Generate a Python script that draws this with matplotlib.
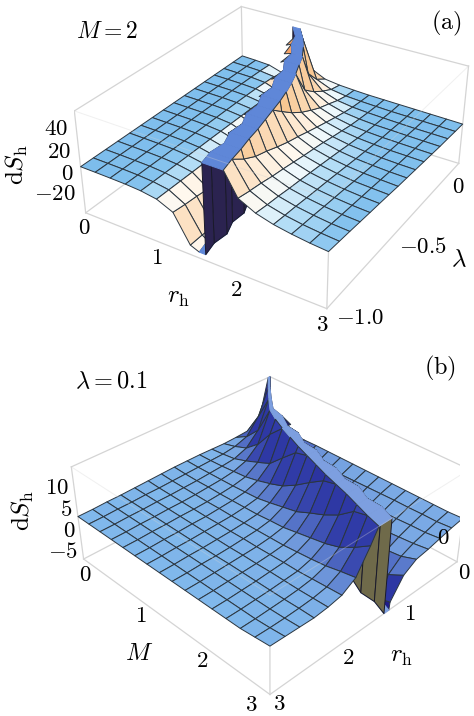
import numpy as np
import matplotlib
matplotlib.use("Agg")
import matplotlib.pyplot as plt
from matplotlib.colors import LinearSegmentedColormap
from mpl_toolkits.mplot3d import proj3d
from mpl_toolkits.mplot3d.art3d import Poly3DCollection

plt.rcParams["mathtext.fontset"] = "cm"
plt.rcParams["font.family"] = "serif"
plt.rcParams["font.serif"] = ["DejaVu Serif"]

# panel (a), M = 2
a_r = [0.0, 0.2, 0.4, 0.6, 0.8, 1.0, 1.2, 1.4, 1.6, 1.8, 2.0, 2.2, 2.4, 2.6, 2.8, 3.0]
a_lam = [-1.0, -0.923, -0.847, -0.77, -0.693, -0.617, -0.54, -0.463,
         -0.387, -0.31, -0.233, -0.157, -0.08, -0.003, 0.073, 0.15]
# dS_h on the mesh, one row per lambda
a_z = [
    [2.2, 2.1, 1.9, 1.6, 0.8, -1.2, -7, -29, 41, 41, 23.5, 16.9, 13.2, 10.9, 9.2, 8],
    [2.2, 2.1, 1.9, 1.5, 0.6, -1.4, -8.5, -29, 41, 41, 21.4, 15.4, 12.1, 9.9, 8.4, 7.3],
    [2.2, 2.1, 1.8, 1.5, 0.5, -1.6, -9.5, -30, 41, 34, 19.8, 14.3, 11.2, 9.1, 7.5, 6.6],
    [2.2, 2, 1.8, 1.4, 0.4, -1.8, -11, -31, 41, 28.8, 17.7, 12.8, 10, 8, 6.6, 5.8],
    [2.2, 2, 1.8, 1.4, 0.3, -2, -12.5, -32, 41, 25.8, 16.1, 11.6, 8.9, 7.1, 5.8, 5],
    [2.2, 2, 1.8, 1.3, 0.2, -2.5, -16, -32, 41, 22.2, 14.3, 10.3, 7.9, 6.2, 5, 4.3],
    [2.2, 2, 1.8, 1.3, 0.2, -3, -20, -32, 41, 19, 12.4, 9, 6.7, 5, 4.2, 3.5],
    [2.2, 2, 1.8, 1.3, 0.1, -3.6, -24, 41, 33, 16.5, 10.8, 7.6, 5.5, 4.1, 3.3, 2.6],
    [2.2, 2, 1.8, 1.3, 0, -4.5, -28, 41, 25.5, 13.6, 9.1, 6.2, 4.3, 3.2, 2.4, 2],
    [2.2, 2, 1.8, 1.3, -0.1, -5.5, -31, 41, 19.3, 10.9, 7, 4.6, 3.2, 2.2, 1.6, 1.3],
    [2.2, 2, 1.8, 1.3, -0.2, -8, -32, 41, 14.5, 8.3, 5.1, 3.2, 2.1, 1.3, 1, 0.6],
    [2.2, 2, 1.8, 1.2, -0.6, -16, 41, 21.5, 10.2, 5.8, 3.2, 1.9, 1.1, 0.7, 0.3, 0],
    [2.2, 2, 1.7, 1, -1.6, -29, 41, 13.8, 7, 3.5, 1.9, 0.9, 0.5, 0, -0.4, -0.7],
    [2.2, 1.9, 1.6, 0.5, -4, 41, 19.8, 8, 3.6, 1.7, 0.8, 0.2, -0.3, -0.7, -0.9, -1.1],
    [2.2, 1.9, 1.4, -0.2, -22, 41, 8.6, 3.3, 1.3, 0.5, -0.1, -0.6, -0.85, -1.1, -1.3, -1.6],
    [2.2, 1.7, 0.9, -3, 41, 8.7, 2.7, 1, 0.2, -0.4, -0.66, -0.93, -1.2, -1.46, -1.72, -2],
]
# where the plot range cuts the surface: jump at a_wall, top plateau up to a_cap
a_wall = [1.59, 1.55, 1.57, 1.50, 1.51, 1.43, 1.43, 1.35, 1.35, 1.26, 1.24, 1.13, 1.10, 0.97, 0.90, 0.74]
a_cap = [1.84, 1.80, 1.77, 1.73, 1.70, 1.66, 1.62, 1.58, 1.53, 1.47, 1.40, 1.32, 1.24, 1.13, 1.00, 0.84]
a_clip = (-32, 41)
a_teeth = [3, 5, 7, 9, 11, 12, 13]
a_zlim = (-37, 47)
a_rticks = [0, 1, 2, 3]
a_lticks = [0, -0.5, -1.0]
a_zticks = [40, 20, 0, -20]
a_zticks_at = [30.6, 11.8, -6.3, -23.5]

# panel (b), lambda = 0.1
b_r = [0.0, 0.2, 0.4, 0.6, 0.8, 1.0, 1.2, 1.4, 1.6, 1.8, 2.0, 2.2, 2.4, 2.6, 2.8, 3.0]
b_m = [0.0, 0.2, 0.4, 0.6, 0.8, 1.0, 1.2, 1.4, 1.6, 1.8, 2.0, 2.2, 2.4, 2.6, 2.8, 3.0]
# dS_h on the mesh, one row per M
b_z = [
    [13.6, 4, 3, 2.8, 2.7, 2.8, 2.9, 2.9, 2.9, 2.8, 2.7, 2.6, 2.5, 2.5, 2.4, 2.4],
    [2.2, -4, 8, 4.5, 3.5, 3.1, 3, 2.9, 2.8, 2.7, 2.6, 2.6, 2.5, 2.5, 2.4, 2.4],
    [2.3, -4, -7.8, 7.5, 4.6, 3.5, 3.2, 3, 2.8, 2.7, 2.6, 2.6, 2.5, 2.5, 2.4, 2.4],
    [2.3, -0.5, -5, 13.6, 7, 4.5, 3.5, 3.1, 2.9, 2.7, 2.6, 2.6, 2.5, 2.5, 2.4, 2.4],
    [2.4, 0.9, -2.2, -7.8, 10.8, 5.7, 3.8, 3.2, 2.9, 2.7, 2.6, 2.6, 2.5, 2.5, 2.4, 2.4],
    [2.4, 1.1, -1.2, -6, 13.6, 7, 4.5, 3.4, 3, 2.8, 2.6, 2.6, 2.5, 2.5, 2.4, 2.4],
    [2.4, 1.2, -0.5, -4, 13.6, 9.8, 5.4, 3.6, 3.1, 2.8, 2.7, 2.6, 2.5, 2.5, 2.4, 2.4],
    [2.4, 1.3, -0.2, -2.8, -7.8, 12.5, 6.5, 4.2, 3.2, 2.9, 2.7, 2.6, 2.5, 2.5, 2.4, 2.4],
    [2.4, 1.4, 0.1, -1.8, -6.5, 13.6, 8.3, 4.9, 3.5, 3, 2.8, 2.6, 2.5, 2.5, 2.4, 2.4],
    [2.4, 1.5, 0.3, -1.3, -5, 13.6, 10.5, 5.6, 3.7, 3.1, 2.8, 2.7, 2.6, 2.5, 2.4, 2.4],
    [2.4, 1.6, 0.5, -0.8, -3.5, -7.8, 12.5, 7, 4.3, 3.2, 2.9, 2.7, 2.6, 2.5, 2.4, 2.4],
    [2.4, 1.7, 0.6, -0.5, -2.8, -7.5, 13.6, 8.3, 4.9, 3.5, 3, 2.8, 2.6, 2.5, 2.4, 2.4],
    [2.4, 1.7, 0.7, -0.4, -2.2, -6, 13.6, 10, 5.5, 3.8, 3, 2.8, 2.6, 2.5, 2.4, 2.4],
    [2.4, 1.8, 0.9, -0.1, -1.4, -4.2, 13.6, 12.5, 6.5, 4.2, 3.2, 2.8, 2.6, 2.5, 2.4, 2.4],
    [2.4, 1.8, 1, 0.2, -1, -3.4, -7.8, 13.6, 8.3, 4.9, 3.4, 2.9, 2.7, 2.6, 2.6, 2.7],
    [2.6, 2.1, 1.4, 0.7, 0.2, -1.6, -6, 13.6, 10.5, 5.5, 3.6, 3, 2.7, 2.8, 2.9, 3],
]
b_wall = [0.0, 0.2, 0.38, 0.55, 0.60, 0.72, 0.75, 0.86, 0.88, 0.98, 1.0, 1.09, 1.1, 1.2, 1.21, 1.29]
b_cap = [0.03, 0.23, 0.42, 0.60, 0.71, 0.8, 0.88, 0.96, 1.03, 1.1, 1.17, 1.23, 1.29, 1.36, 1.43, 1.49]
b_clip = (-7.8, 13.6)
b_teeth = [4, 5, 7, 9, 11, 13]
b_zlim = (-7.8, 13.6)
b_mticks = [0, 1, 2, 3]
b_rticks = [0, 1, 2, 3]
b_zticks = [10, 5, 0, -5]

W, H = 474, 716
MESH = "#2b3640"
BOX = "#d4d4d4"

a_cmap = LinearSegmentedColormap.from_list("a_surf", [
    (0.0, "#7bbcec"), (0.31, "#84c2ee"), (0.45, "#b5def6"), (0.55, "#eef8fc"),
    (0.65, "#fff8ee"), (0.79, "#fde7ce"), (1.0, "#f8c792")])
b_cmap = LinearSegmentedColormap.from_list("b_surf", [
    (0.0, "#80b8ec"), (0.45, "#7aa8e4"), (0.65, "#5573c8"), (0.85, "#2f3aa6"), (1.0, "#1f1d8c")])


def make_axes(pos):
    size, cx, cy = pos
    ax = fig.add_axes([(cx-size/2)/W, (cy-size/2)/H, size/W, size/H], projection="3d")
    ax.patch.set_visible(False)
    ax.set_xticks([])
    ax.set_yticks([])
    ax.set_zticks([])
    ax.set_axis_off()
    ax.computed_zorder = False
    return ax


def slope_color(q, cmap, smax):
    q = np.array(q)
    s = 0
    for p0, p1 in [(0, 1), (3, 2)]:
        dr = abs(q[p1, 1]-q[p0, 1])
        if dr > 1e-6:
            s = max(s, abs(q[p1, 2]-q[p0, 2])/dr)
    for p0, p1 in [(0, 3), (1, 2)]:
        s = max(s, abs(q[p1, 2]-q[p0, 2])/abs(q[p1, 0]-q[p0, 0])*0.15)
    return cmap(np.log10(1+s)/np.log10(1+smax))


def surface_polys(rows, cols, z, wall, cap, clip, teeth, cmap, smax, wall_c, cap_c, tooth_c, tooth_dz):
    # split the mesh into the part below the jump, the part above it,
    # and the flat plateau, floor and wall the plot range leaves between them
    low, top = clip
    z = np.clip(np.array(z, float), low, top)
    polys, faces, edges = [], [], []
    floor_w = 0.08
    for i in range(len(rows)-1):
        a, b = rows[i], rows[i+1]
        end0 = max(0, wall[i]-floor_w)
        end1 = max(0, wall[i+1]-floor_w)
        for j in range(len(cols)-1):
            c, d = cols[j], cols[j+1]
            # low side
            q = [(a, min(c, end0), z[i, j] if c < end0 else low),
                 (a, min(d, end0), z[i, j+1] if d < end0 else low),
                 (b, min(d, end1), z[i+1, j+1] if d < end1 else low),
                 (b, min(c, end1), z[i+1, j] if c < end1 else low)]
            if q[1][1]-q[0][1] > 1e-6 or q[2][1]-q[3][1] > 1e-6:
                polys.append(q)
                faces.append(slope_color(q, cmap, smax))
                edges.append(MESH)
            # high side
            q = [(a, max(c, cap[i]), z[i, j] if c > cap[i] else top),
                 (a, max(d, cap[i]), z[i, j+1] if d > cap[i] else top),
                 (b, max(d, cap[i+1]), z[i+1, j+1] if d > cap[i+1] else top),
                 (b, max(c, cap[i+1]), z[i+1, j] if c > cap[i+1] else top)]
            if q[1][1]-q[0][1] > 1e-6 or q[2][1]-q[3][1] > 1e-6:
                polys.append(q)
                faces.append(slope_color(q, cmap, smax))
                edges.append(MESH)
        polys.append([(a, wall[i], top), (a, cap[i], top), (b, cap[i+1], top), (b, wall[i+1], top)])
        faces.append(cap_c)
        edges.append(cap_c)
        polys.append([(a, end0, low), (a, wall[i], low), (b, wall[i+1], low), (b, end1, low)])
        faces.append(cap_c)
        edges.append(cap_c)
        polys.append([(a, wall[i], low), (a, wall[i], top), (b, wall[i+1], top), (b, wall[i+1], low)])
        faces.append(wall_c)
        edges.append("#1a1a2a")
        if i in teeth:
            polys.append([(a, wall[i], top), (b, wall[i+1], top),
                          ((a+b)/2, (wall[i]+wall[i+1])/2-0.1, top-tooth_dz)])
            faces.append(tooth_c)
            edges.append(MESH)
    return polys, faces, edges


def draw_box(ax, x, y, z):
    x0, x1 = x
    y0, y1 = y
    z0, z1 = z
    solid = [[(x0, y1, z1), (x0, y0, z1)], [(x0, y1, z1), (x1, y1, z1)],
             [(x0, y1, z0), (x0, y1, z1)], [(x0, y1, z0), (x0, y0, z0)], [(x0, y1, z0), (x1, y1, z0)],
             [(x0, y0, z0), (x1, y0, z0)], [(x1, y0, z0), (x1, y1, z0)],
             [(x0, y0, z0), (x0, y0, z1)], [(x1, y1, z0), (x1, y1, z1)], [(x1, y0, z0), (x1, y0, z1)]]
    over = [[(x0, y0, z1), (x1, y0, z1)], [(x1, y0, z1), (x1, y1, z1)]]
    for seg in solid:
        s = np.array(seg)
        ax.plot(s[:, 0], s[:, 1], s[:, 2], color=BOX, lw=0.9, zorder=1)
    for seg in over:
        s = np.array(seg)
        ax.plot(s[:, 0], s[:, 1], s[:, 2], color=BOX, lw=0.7, alpha=0.35, zorder=3)


def tick_label(ax, x, y, z, s, ha="center"):
    # project the 3D place and put the label on the figure there
    px, py, _ = proj3d.proj_transform(x, y, z, ax.get_proj())
    u, v = ax.transData.transform((px, py))
    fig.text(u/W, v/H, s, fontsize=16.5, ha=ha, va="center")


fig = plt.figure(figsize=(W/100, H/100), dpi=100)

# panel (a)
ax = make_axes((398.4, 273.4, 571.8))
ax.set_xlim(0, 3)
ax.set_ylim(-1, 0.15)
ax.set_zlim(*a_zlim)
ax.set_box_aspect((1, 1.02, 0.421))
ax.view_init(30.98, -57.91)
ax.set_proj_type("persp", focal_length=0.504)
polys, faces, edges = surface_polys(a_lam, a_r, a_z, a_wall, a_cap, a_clip, a_teeth, a_cmap, 300,
                                    "#2b2350", "#5f87d8", "#f3a266", 6)
# rows run along lambda, so swap to (r, lambda, z)
polys = [[(p[1], p[0], p[2]) for p in q] for q in polys]
ax.add_collection3d(Poly3DCollection(polys, facecolors=faces, edgecolors=edges, linewidths=0.7, zorder=2), autolim=False)
draw_box(ax, (0, 3), (-1, 0.15), a_zlim)
for t in a_rticks:
    tick_label(ax, t-0.05, -1, a_zlim[0]-15, f"${t}$")
for t in a_lticks:
    tick_label(ax, 3.1, t, a_zlim[0]-5, f"${t}$", ha="left")
for t, at in zip(a_zticks, a_zticks_at):
    tick_label(ax, -0.12, -1, at, f"${t}$", ha="right")
fig.text(76/W, 1-31/H, r"$M=2$", fontsize=17, ha="left", va="center")
fig.text(446/W, 1-23/H, r"$\mathrm{(a)}$", fontsize=17.5, ha="center", va="center")
fig.text(17/W, 1-165/H, r"$\mathrm{d}S_{\mathrm{h}}$", fontsize=18, rotation=90, ha="center", va="center")
fig.text(178/W, 1-298/H, r"$r_{\mathrm{h}}$", fontsize=18, ha="center", va="center")
fig.text(459/W, 1-260/H, r"$\lambda$", fontsize=18, ha="center", va="center")

# panel (b)
ax = make_axes((389.7, 264.7, 195.0))
ax.set_xlim(0, 3)
ax.set_ylim(3, 0)
ax.set_zlim(*b_zlim)
ax.set_box_aspect((1, 0.988, 0.41))
ax.view_init(34.93, -44.65)
ax.set_proj_type("persp", focal_length=0.478)
polys, faces, edges = surface_polys(b_m, b_r, b_z, b_wall, b_cap, b_clip, b_teeth, b_cmap, 60,
                                    "#6f6a4a", "#7d9fe0", "#20206a", 1.5)
ax.add_collection3d(Poly3DCollection(polys, facecolors=faces, edgecolors=edges, linewidths=0.7, zorder=2), autolim=False)
draw_box(ax, (0, 3), (3, 0), b_zlim)
for t in b_mticks:
    if t == 3:
        tick_label(ax, t, 3.25, b_zlim[0]+0.7, f"${t}$")
    else:
        tick_label(ax, t, 3.0, b_zlim[0]-4, f"${t}$")
for t in b_rticks:
    if t == 3:
        tick_label(ax, 3.12, t, b_zlim[0]-0.7, f"${t}$")
    else:
        tick_label(ax, 3.12, t, b_zlim[0]-1.7, f"${t}$")
for t in b_zticks:
    tick_label(ax, 0, 3.06, t-0.5, f"${t}$", ha="right")
fig.text(443/W, 1-538/H, "$0$", fontsize=16.5, ha="center", va="center")
fig.text(75/W, 1-382/H, r"$\lambda=0.1$", fontsize=17.5, ha="left", va="center")
fig.text(440/W, 1-368/H, r"$\mathrm{(b)}$", fontsize=17.5, ha="center", va="center")
fig.text(23/W, 1-511/H, r"$\mathrm{d}S_{\mathrm{h}}$", fontsize=18, rotation=90, ha="center", va="center")
fig.text(401/W, 1-657/H, r"$r_{\mathrm{h}}$", fontsize=18, ha="center", va="center")
fig.text(139/W, 1-653/H, r"$M$", fontsize=18, ha="center", va="center")

fig.savefig("out.png", dpi=100)
